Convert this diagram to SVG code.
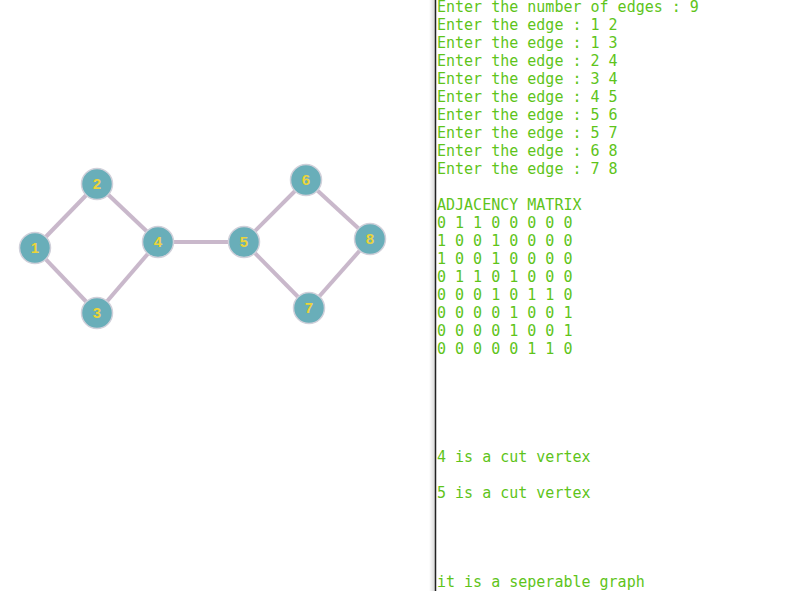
<svg xmlns="http://www.w3.org/2000/svg" width="788" height="591" viewBox="0 0 788 591">
<style>
.e{stroke:#c9b8cb;stroke-width:4}
.n circle{fill:#69aeb9;stroke:#d0d0da;stroke-width:1.5}
.n text{fill:#ecd43a;font:bold 15px "Liberation Sans",sans-serif;text-anchor:middle}
.t{fill:#5ec41a;font:15px "DejaVu Sans Mono",monospace}
</style>
<defs>
<linearGradient id="sh" x1="0" x2="1" y1="0" y2="0"><stop offset="0" stop-color="#fff"/><stop offset="1" stop-color="#d8d8d8"/></linearGradient>
</defs>
<rect width="788" height="591" fill="#fff"/>
<g id="connectors">
<line class="e" x1="35" y1="248" x2="97" y2="184"/>
<line class="e" x1="35" y1="248" x2="97" y2="313"/>
<line class="e" x1="97" y1="184" x2="158" y2="242"/>
<line class="e" x1="97" y1="313" x2="158" y2="242"/>
<line class="e" x1="158" y1="242" x2="244" y2="242"/>
<line class="e" x1="244" y1="242" x2="306" y2="180"/>
<line class="e" x1="244" y1="242" x2="309" y2="308"/>
<line class="e" x1="306" y1="180" x2="370" y2="239"/>
<line class="e" x1="309" y1="308" x2="370" y2="239"/>
</g>
<g id="n1" class="n"><circle cx="35" cy="248" r="15.5"/><text x="35" y="253">1</text></g>
<g id="n2" class="n"><circle cx="97" cy="184" r="15.5"/><text x="97" y="189">2</text></g>
<g id="n3" class="n"><circle cx="97" cy="313" r="15.5"/><text x="97" y="318">3</text></g>
<g id="n4" class="n"><circle cx="158" cy="242" r="15.5"/><text x="158" y="247">4</text></g>
<g id="n5" class="n"><circle cx="244" cy="242" r="15.5"/><text x="244" y="247">5</text></g>
<g id="n6" class="n"><circle cx="306" cy="180" r="15.5"/><text x="306" y="185">6</text></g>
<g id="n7" class="n"><circle cx="309" cy="308" r="15.5"/><text x="309" y="313">7</text></g>
<g id="n8" class="n"><circle cx="370" cy="239" r="15.5"/><text x="370" y="244">8</text></g>
<rect x="429" y="0" width="6" height="591" fill="url(#sh)"/>
<line x1="435.5" y1="0" x2="435.5" y2="591" stroke="#222" stroke-width="1.5"/>
<g class="t" xml:space="preserve">
<text x="437" y="12">Enter the number of edges : 9</text>
<text x="437" y="30">Enter the edge : 1 2</text>
<text x="437" y="48">Enter the edge : 1 3</text>
<text x="437" y="66">Enter the edge : 2 4</text>
<text x="437" y="84">Enter the edge : 3 4</text>
<text x="437" y="102">Enter the edge : 4 5</text>
<text x="437" y="120">Enter the edge : 5 6</text>
<text x="437" y="138">Enter the edge : 5 7</text>
<text x="437" y="156">Enter the edge : 6 8</text>
<text x="437" y="174">Enter the edge : 7 8</text>
<text x="437" y="210">ADJACENCY MATRIX</text>
<text x="437" y="228">0 1 1 0 0 0 0 0</text>
<text x="437" y="246">1 0 0 1 0 0 0 0</text>
<text x="437" y="264">1 0 0 1 0 0 0 0</text>
<text x="437" y="282">0 1 1 0 1 0 0 0</text>
<text x="437" y="300">0 0 0 1 0 1 1 0</text>
<text x="437" y="318">0 0 0 0 1 0 0 1</text>
<text x="437" y="336">0 0 0 0 1 0 0 1</text>
<text x="437" y="354">0 0 0 0 0 1 1 0</text>
<text x="437" y="462">4 is a cut vertex</text>
<text x="437" y="498">5 is a cut vertex</text>
<text x="437" y="587">it is a seperable graph</text>
</g>
</svg>
